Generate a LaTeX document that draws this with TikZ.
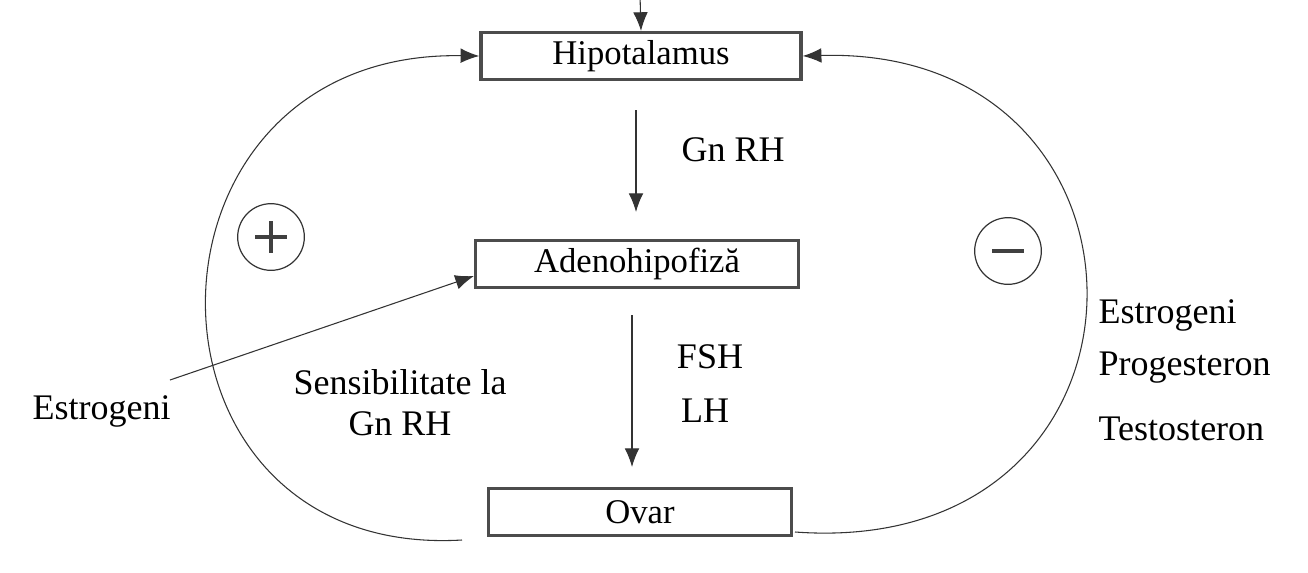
\documentclass[tikz,border=0pt]{standalone}
\usepackage{fontspec}
\setmainfont{Liberation Serif}
\usetikzlibrary{arrows.meta}
\begin{document}
\begin{tikzpicture}[x=0.75pt,y=-0.75pt,
  box/.style={draw=black!70,line width=2.6pt,minimum height=35pt,inner sep=0pt,font=\fontsize{26}{30}\selectfont},
  lbl/.style={font=\fontsize{27}{31}\selectfont},
  arr/.style={draw=black!80,line width=0.8pt,-{Latex[length=14pt,width=11pt]}},
  circ/.style={draw=black!80,line width=0.9pt,circle,minimum size=50pt,inner sep=0pt}]
\useasboundingbox (0,0) rectangle (1308,572);
\node[box,minimum width=240pt] (hip) at (641,56) {Hipotalamus};
\node[box,minimum width=242pt] (ade) at (637,264) {Adenohipofiză};
\node[box,minimum width=227pt] (ova) at (640,512) {Ovar};
\coordinate (top) at (640,-5);
\draw[arr] (top) -- (hip.north);
\coordinate (h1) at (636,110); \coordinate (h2) at (636,212);
\draw[arr] (h1) -- (h2);
\coordinate (a1) at (632,315); \coordinate (a2) at (632,467);
\draw[arr] (a1) -- (a2);
\node[lbl] (g1) at (733,150) {Gn RH};
\node[lbl] (fsh) at (710,357) {FSH};
\node[lbl] (lh) at (705,411) {LH};
\node[lbl,align=center] (sens) at (400,403) {Sensibilitate la\\Gn RH};
\coordinate (ls) at (462,540);
\draw[arr] (ls) .. controls (120,560) and (120,50) .. (hip.west);
\coordinate (rs) at (795,532);
\draw[arr] (rs) .. controls (1180,560) and (1180,45) .. (hip.east);
\node[circ] (plus) at (271,237) {};
\draw[line width=2.4pt,black!75] (plus.center) ++(0,-16) -- ++(0,32) (plus.center) ++(-16,0) -- ++(32,0);
\node[circ] (minus) at (1008,251) {};
\draw[line width=2.4pt,black!75] (minus.center) ++(-16,0) -- ++(32,0);
\node[lbl,anchor=west] (est) at (28,411) {Estrogeni};
\coordinate (e0) at (170,380);
\draw[arr] (e0) -- ([yshift=-9pt]ade.west);
\node[lbl,anchor=west] (r1) at (1094,315) {Estrogeni};
\node[lbl,anchor=west] (r2) at (1094,368) {Progesteron};
\node[lbl,anchor=west] (r3) at (1094,429) {Testosteron};
\end{tikzpicture}
\end{document}
